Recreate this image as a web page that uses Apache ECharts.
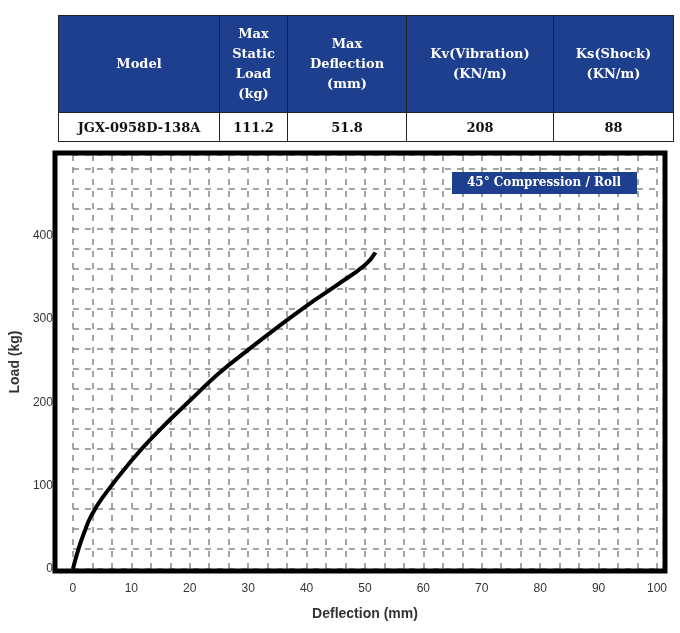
<!DOCTYPE html>
<html><head><meta charset="utf-8">
<script src="https://cdn.jsdelivr.net/npm/echarts@6/dist/echarts.min.js"></script>
<style>
body{margin:0;background:#fff;}
#tbl{position:absolute;left:58px;top:15px;border-collapse:collapse;font-family:"DejaVu Serif",serif;font-weight:bold;font-size:13px;text-align:center;}
#tbl th{background:#1d3f8e;color:#fff;border:1px solid #222;height:94px;line-height:20px;}
#tbl td{border:1px solid #222;height:26px;color:#111;}
#main{position:absolute;left:0;top:0;width:680px;height:633px;}
</style></head><body>
<div id="main"></div>
<table id="tbl">
<tr><th style="width:158px">Model</th><th style="width:65px">Max<br>Static<br>Load<br>(kg)</th><th style="width:116px">Max<br>Deflection<br>(mm)</th><th style="width:144px">Kv(Vibration)<br>(KN/m)</th><th style="width:117px">Ks(Shock)<br>(KN/m)</th></tr>
<tr><td>JGX-0958D-138A</td><td>111.2</td><td>51.8</td><td>208</td><td>88</td></tr>
</table>
<script>
var deflection=[0,1,2,3,5,10,15,20,25,30,35,40,45,50,51.8];
var load=[0,25,45,62,85,130,168,202,235,263,290,316,340,365,380];
var xTicks=[0,10,20,30,40,50,60,70,80,90,100];
var yTicks=[0,100,200,300,400];

var myChart=echarts.init(document.getElementById('main'));
var dash={show:true,lineStyle:{color:'#888',type:[6,6],width:1.5}};
var option={
    animation:false,
    grid:{left:60,right:23,top:155,bottom:64},
    xAxis:[{
        type:'value',min:0,max:100,interval:10,
        name:'Deflection (mm)',nameLocation:'middle',nameGap:38,
        nameTextStyle:{fontFamily:'Liberation Sans',fontWeight:'bold',fontSize:14,color:'#333'},
        axisLine:{show:false},axisTick:{show:false},splitLine:{show:false},
        axisLabel:{fontFamily:'Liberation Sans',fontSize:12,color:'#333',margin:14}
    },{
        type:'value',min:0,max:30,interval:1,show:true,
        axisLine:{show:false},axisTick:{show:false},axisLabel:{show:false},splitLine:dash
    }],
    yAxis:[{
        type:'value',min:0,max:497,interval:100,
        name:'Load (kg)',nameLocation:'middle',nameGap:44,
        nameTextStyle:{fontFamily:'Liberation Sans',fontWeight:'bold',fontSize:14,color:'#333'},
        axisLine:{show:false},axisTick:{show:false},splitLine:{show:false},
        axisLabel:{fontFamily:'Liberation Sans',fontSize:12,color:'#333',margin:20,
            formatter:function(v){return yTicks.indexOf(v)>=0?v:'';}}
    },{
        type:'value',min:0,max:20.7,interval:1,
        axisLine:{show:false},axisTick:{show:false},axisLabel:{show:false},splitLine:dash
    }],
    graphic:[
        {type:'rect',shape:{x:55,y:153,width:610,height:418},style:{fill:'none',stroke:'#000',lineWidth:5},z:10},
        {type:'rect',shape:{x:452,y:172,width:185,height:22},style:{fill:'#1d3f8e'},z:10},
        {type:'text',x:544,y:183,style:{text:'45° Compression / Roll',fill:'#fff',font:'bold 12px "DejaVu Serif"',align:'center',verticalAlign:'middle'},z:11}
    ],
    series:[{
        type:'line',smooth:true,symbol:'none',
        data:deflection.map(function(d,i){return [d,load[i]];}),
        lineStyle:{color:'#000',width:4}
    }]
};
myChart.setOption(option);
</script>
</body></html>
